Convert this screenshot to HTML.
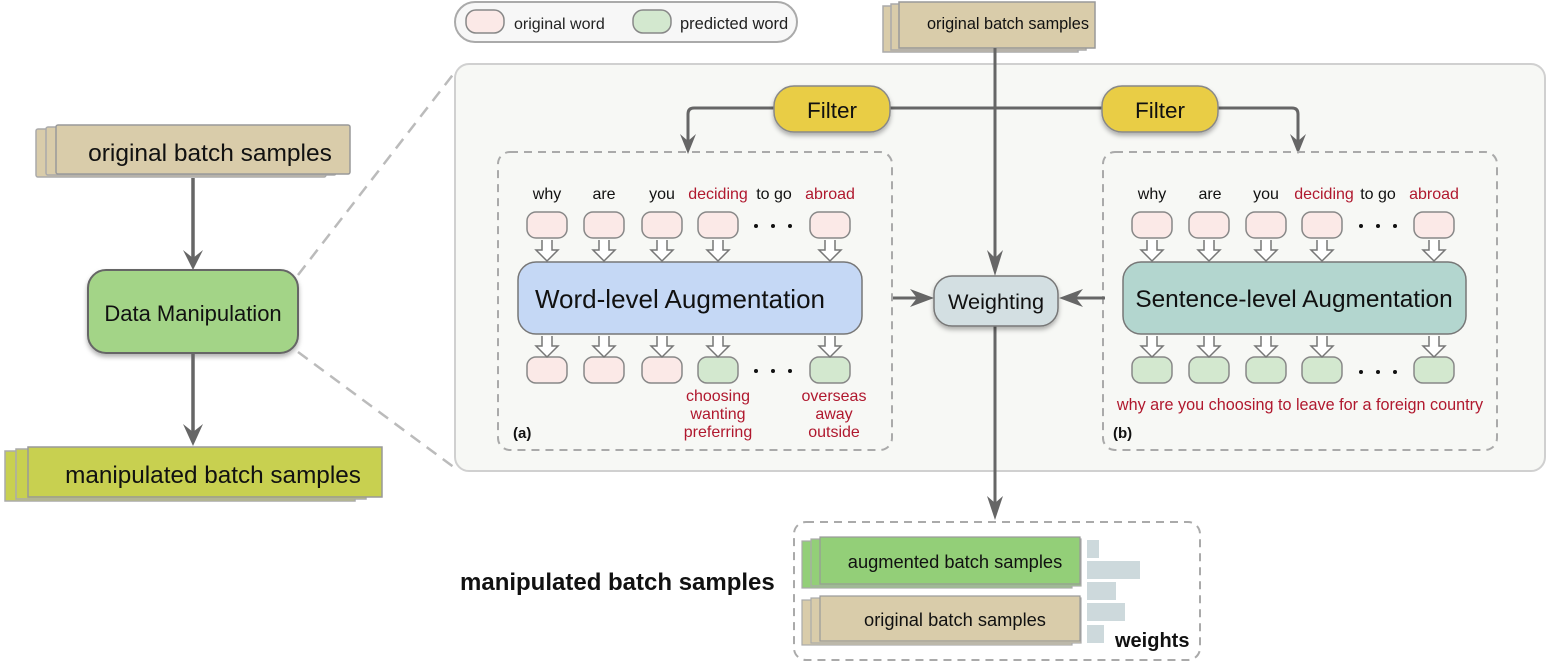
<!DOCTYPE html>
<html><head><meta charset="utf-8"><style>
body{margin:0;background:#fff}
svg{display:block;font-family:"Liberation Sans",sans-serif}
</style></head><body>
<svg width="1548" height="665" viewBox="0 0 1548 665" xmlns="http://www.w3.org/2000/svg">
<defs>
<filter id="sh" x="-10%" y="-10%" width="130%" height="140%"><feDropShadow dx="0" dy="3" stdDeviation="2.5" flood-color="#000" flood-opacity="0.3"/></filter>
<g id="ha"><path d="M-5 0 V10 H-11 L0 21 L11 10 H5 V0" fill="#fff" stroke="#777" stroke-width="1.5"/></g>
</defs>

<line x1="298" y1="275" x2="455" y2="72" stroke="#bbb" stroke-width="2.5" stroke-dasharray="12,8"/>
<line x1="298" y1="352" x2="455" y2="468" stroke="#bbb" stroke-width="2.5" stroke-dasharray="12,8"/>

<rect x="36" y="129" width="290" height="48" fill="#d9ccaa" stroke="#aaa" stroke-width="1.5" rx="2"/>
<rect x="46" y="127" width="290" height="48" fill="#d9ccaa" stroke="#aaa" stroke-width="1.5" rx="2"/>
<rect x="56" y="125" width="294" height="49" fill="#d9ccaa" stroke="#999" stroke-width="1.5" rx="2"/>
<text x="210" y="161" font-size="24.5" text-anchor="middle" fill="#111">original batch samples</text>
<line x1="193" y1="178" x2="193" y2="262" stroke="#666" stroke-width="3.5"/>
<path d="M183 250 L193 270 L203 250 L193 258 Z" fill="#666"/>
<rect x="88" y="270" width="210" height="83" rx="18" fill="#a3d487" stroke="#666" stroke-width="2" filter="url(#sh)"/>
<text x="193" y="321" font-size="22" text-anchor="middle" fill="#111">Data Manipulation</text>
<line x1="193" y1="354" x2="193" y2="438" stroke="#666" stroke-width="3.5"/>
<path d="M183 424 L193 446 L203 424 L193 432 Z" fill="#666"/>
<rect x="5" y="451" width="350" height="50" fill="#c8d050" stroke="#aaa" stroke-width="1.5"/>
<rect x="16" y="449" width="350" height="50" fill="#c8d050" stroke="#aaa" stroke-width="1.5"/>
<rect x="28" y="447" width="354" height="50" fill="#c8d050" stroke="#999" stroke-width="1.5"/>
<text x="213" y="483" font-size="24.3" text-anchor="middle" fill="#111">manipulated batch samples</text>

<rect x="455" y="2" width="342" height="40" rx="20" fill="#f7f7f7" stroke="#aaa" stroke-width="2"/>
<rect x="466" y="10" width="38" height="23" rx="10" fill="#fbe9e7" stroke="#888" stroke-width="1.5"/>
<text x="514" y="29" font-size="16" fill="#222">original word</text>
<rect x="633" y="10" width="38" height="23" rx="10" fill="#d3e8cf" stroke="#888" stroke-width="1.5"/>
<text x="680" y="29" font-size="16.5" fill="#222">predicted word</text>

<rect x="455" y="64" width="1090" height="407" rx="14" fill="#f7f8f5" stroke="#d0d0d0" stroke-width="2"/>

<rect x="883" y="6" width="195" height="46" fill="#d9ccaa" stroke="#aaa" stroke-width="1.5"/>
<rect x="891" y="4" width="195" height="46" fill="#d9ccaa" stroke="#aaa" stroke-width="1.5"/>
<rect x="899" y="2" width="196" height="46" fill="#d9ccaa" stroke="#999" stroke-width="1.5"/>
<text x="1008" y="29" font-size="16.3" text-anchor="middle" fill="#111">original batch samples</text>

<path d="M688 150 V114 Q688 108 694 108 H1292 Q1298 108 1298 114 V150" fill="none" stroke="#666" stroke-width="3"/>
<path d="M680 134 L688 154 L696 134 L688 141 Z" fill="#666"/>
<path d="M1290 134 L1298 154 L1306 134 L1298 141 Z" fill="#666"/>
<line x1="995" y1="48" x2="995" y2="268" stroke="#666" stroke-width="3"/>
<path d="M987 250 L995 276 L1003 250 L995 258 Z" fill="#666"/>
<rect x="774" y="86" width="116" height="46" rx="20" fill="#e9cd45" stroke="#888" stroke-width="1.5" filter="url(#sh)"/>
<text x="832" y="118" font-size="22.5" text-anchor="middle" fill="#111">Filter</text>
<rect x="1102" y="86" width="116" height="46" rx="20" fill="#e9cd45" stroke="#888" stroke-width="1.5" filter="url(#sh)"/>
<text x="1160" y="118" font-size="22.5" text-anchor="middle" fill="#111">Filter</text>

<rect x="498" y="152" width="394" height="298" rx="12" fill="none" stroke="#aaa" stroke-width="2" stroke-dasharray="8,6"/>
<g font-size="16" text-anchor="middle">
<text x="547" y="199" fill="#111">why</text><text x="604" y="199" fill="#111">are</text><text x="662" y="199" fill="#111">you</text>
<text x="718" y="199" fill="#b0182e">deciding</text><text x="774" y="199" fill="#111">to go</text><text x="830" y="199" fill="#b0182e">abroad</text>
</g>
<g fill="#fbe9e7" stroke="#888" stroke-width="1.5">
<rect x="527" y="212" width="40" height="26" rx="9"/><rect x="584" y="212" width="40" height="26" rx="9"/><rect x="642" y="212" width="40" height="26" rx="9"/><rect x="698" y="212" width="40" height="26" rx="9"/><rect x="810" y="212" width="40" height="26" rx="9"/>
<rect x="527" y="357" width="40" height="26" rx="9"/><rect x="584" y="357" width="40" height="26" rx="9"/><rect x="642" y="357" width="40" height="26" rx="9"/>
</g>
<g fill="#d3e8cf" stroke="#888" stroke-width="1.5"><rect x="698" y="357" width="40" height="26" rx="9"/><rect x="810" y="357" width="40" height="26" rx="9"/></g>
<g fill="#111"><circle cx="756" cy="226" r="2"/><circle cx="773" cy="226" r="2"/><circle cx="790" cy="226" r="2"/><circle cx="756" cy="371" r="2"/><circle cx="773" cy="371" r="2"/><circle cx="790" cy="371" r="2"/></g>
<use href="#ha" x="547" y="240"/><use href="#ha" x="604" y="240"/><use href="#ha" x="662" y="240"/><use href="#ha" x="718" y="240"/><use href="#ha" x="830" y="240"/>
<use href="#ha" x="547" y="336"/><use href="#ha" x="604" y="336"/><use href="#ha" x="662" y="336"/><use href="#ha" x="718" y="336"/><use href="#ha" x="830" y="336"/>
<rect x="518" y="262" width="344" height="72" rx="18" fill="#c5d8f5" stroke="#777" stroke-width="1.5"/>
<text x="680" y="308" font-size="26" text-anchor="middle" fill="#111">Word-level Augmentation</text>
<g font-size="16" text-anchor="middle" fill="#b0182e">
<text x="718" y="401">choosing</text><text x="718" y="419">wanting</text><text x="718" y="437">preferring</text>
<text x="834" y="401">overseas</text><text x="834" y="419">away</text><text x="834" y="437">outside</text>
</g>
<text x="513" y="438" font-size="15" font-weight="bold" fill="#111">(a)</text>

<rect x="1103" y="152" width="394" height="298" rx="12" fill="none" stroke="#aaa" stroke-width="2" stroke-dasharray="8,6"/>
<g font-size="16" text-anchor="middle">
<text x="1152" y="199" fill="#111">why</text><text x="1210" y="199" fill="#111">are</text><text x="1266" y="199" fill="#111">you</text>
<text x="1324" y="199" fill="#b0182e">deciding</text><text x="1378" y="199" fill="#111">to go</text><text x="1434" y="199" fill="#b0182e">abroad</text>
</g>
<g fill="#fbe9e7" stroke="#888" stroke-width="1.5">
<rect x="1132" y="212" width="40" height="26" rx="9"/><rect x="1189" y="212" width="40" height="26" rx="9"/><rect x="1246" y="212" width="40" height="26" rx="9"/><rect x="1302" y="212" width="40" height="26" rx="9"/><rect x="1414" y="212" width="40" height="26" rx="9"/>
</g>
<g fill="#d3e8cf" stroke="#888" stroke-width="1.5">
<rect x="1132" y="357" width="40" height="26" rx="9"/><rect x="1189" y="357" width="40" height="26" rx="9"/><rect x="1246" y="357" width="40" height="26" rx="9"/><rect x="1302" y="357" width="40" height="26" rx="9"/><rect x="1414" y="357" width="40" height="26" rx="9"/>
</g>
<g fill="#111"><circle cx="1361" cy="226" r="2"/><circle cx="1378" cy="226" r="2"/><circle cx="1395" cy="226" r="2"/><circle cx="1361" cy="372" r="2"/><circle cx="1378" cy="372" r="2"/><circle cx="1395" cy="372" r="2"/></g>
<use href="#ha" x="1152" y="240"/><use href="#ha" x="1209" y="240"/><use href="#ha" x="1266" y="240"/><use href="#ha" x="1322" y="240"/><use href="#ha" x="1434" y="240"/>
<use href="#ha" x="1152" y="336"/><use href="#ha" x="1209" y="336"/><use href="#ha" x="1266" y="336"/><use href="#ha" x="1322" y="336"/><use href="#ha" x="1434" y="336"/>
<rect x="1123" y="262" width="343" height="72" rx="18" fill="#b3d6cf" stroke="#777" stroke-width="1.5"/>
<text x="1294" y="307" font-size="24.4" text-anchor="middle" fill="#111">Sentence-level Augmentation</text>
<text x="1300" y="410" font-size="16.2" text-anchor="middle" fill="#b0182e">why are you choosing to leave for a foreign country</text>
<text x="1113" y="438" font-size="15" font-weight="bold" fill="#111">(b)</text>

<line x1="893" y1="298" x2="924" y2="298" stroke="#666" stroke-width="3"/>
<path d="M910 289 L934 298 L910 307 L917 298 Z" fill="#666"/>
<line x1="1105" y1="298" x2="1068" y2="298" stroke="#666" stroke-width="3"/>
<path d="M1083 289 L1059 298 L1083 307 L1076 298 Z" fill="#666"/>
<line x1="995" y1="326" x2="995" y2="508" stroke="#666" stroke-width="3"/>
<path d="M987 496 L995 520 L1003 496 L995 503 Z" fill="#666"/>
<rect x="934" y="276" width="124" height="50" rx="18" fill="#d3dfe2" stroke="#777" stroke-width="1.5" filter="url(#sh)"/>
<text x="996" y="309" font-size="21.7" text-anchor="middle" fill="#111">Weighting</text>

<rect x="794" y="522" width="406" height="138" rx="12" fill="none" stroke="#aaa" stroke-width="2" stroke-dasharray="8,6"/>
<rect x="802" y="541" width="270" height="47" fill="#93cf78" stroke="#aaa" stroke-width="1.2"/>
<rect x="811" y="539" width="270" height="47" fill="#93cf78" stroke="#aaa" stroke-width="1.2"/>
<rect x="820" y="537" width="260" height="47" fill="#93cf78" stroke="#999" stroke-width="1.2"/>
<text x="955" y="568" font-size="18.3" text-anchor="middle" fill="#111">augmented batch samples</text>
<rect x="802" y="600" width="270" height="45" fill="#d9ccaa" stroke="#aaa" stroke-width="1.2"/>
<rect x="811" y="598" width="270" height="45" fill="#d9ccaa" stroke="#aaa" stroke-width="1.2"/>
<rect x="820" y="596" width="260" height="45" fill="#d9ccaa" stroke="#999" stroke-width="1.2"/>
<text x="955" y="626" font-size="18.3" text-anchor="middle" fill="#111">original batch samples</text>
<g fill="#cdd9dc">
<rect x="1087" y="540" width="12" height="18"/><rect x="1087" y="561" width="53" height="18"/><rect x="1087" y="582" width="29" height="18"/><rect x="1087" y="603" width="38" height="18"/><rect x="1087" y="625" width="17" height="18"/>
</g>
<text x="1115" y="647" font-size="20" font-weight="bold" fill="#111">weights</text>
<text x="460" y="590" font-size="24" font-weight="bold" fill="#111">manipulated batch samples</text>
</svg>
</body></html>
